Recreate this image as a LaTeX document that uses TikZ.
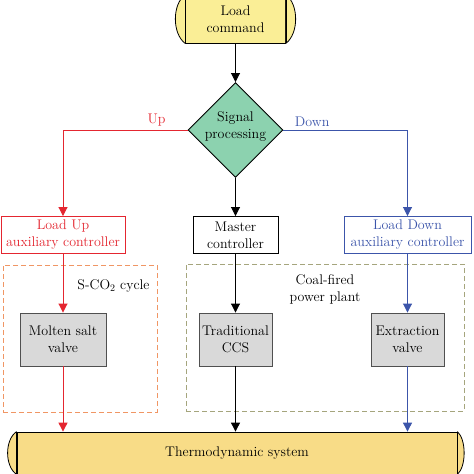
\documentclass[tikz,border=0pt]{standalone}
\usetikzlibrary{shapes.geometric,arrows.meta}
\definecolor{redC}{RGB}{228,38,48}
\definecolor{blueC}{RGB}{60,85,170}
\definecolor{orangeD}{RGB}{240,150,100}
\definecolor{oliveD}{RGB}{165,165,125}
\definecolor{yellowT}{RGB}{250,238,150}
\definecolor{yellowB}{RGB}{248,220,135}
\definecolor{greenF}{RGB}{140,210,175}
\definecolor{grayF}{RGB}{217,217,217}
\definecolor{grayB}{RGB}{80,80,80}
\begin{document}
\begin{tikzpicture}[x=1pt,y=-1pt,
  every node/.style={font=\fontsize{14}{17}\selectfont},
  conn/.style={line width=0.9pt,-{Triangle[width=9pt,length=9pt]}},
  ctrl/.style={rectangle,draw,line width=0.9pt,fill=white,minimum height=37pt,align=center,inner sep=0pt},
  valve/.style={rectangle,draw=grayB,fill=grayF,line width=0.9pt,minimum height=53pt,align=center,inner sep=0pt},
  group/.style={rectangle,draw,line width=0.9pt,dash pattern=on 5pt off 3pt,inner sep=0pt},
  tank/.style={rectangle,draw,line width=0.8pt,align=center,inner sep=0pt},
  decision/.style={diamond,draw,fill=greenF,line width=0.9pt,minimum size=95pt,inner sep=0pt}
]
\useasboundingbox (0,0) rectangle (474,474);

% groups
\node[group,draw=orangeD,minimum width=154pt,minimum height=147pt] (sco2) at (80,338.5) {};
\node[group,draw=oliveD,minimum width=278pt,minimum height=147pt] (coal) at (325,337.5) {};
\node[align=center] (sco2lab) at (113.5,286) {S-CO$_2$ cycle};
\node[align=center] (coallab) at (325,289) {Coal-fired\\power plant};

% top terminal
\node[tank,fill=yellowT,minimum width=100pt,minimum height=48pt] (load) at (235.5,19) {Load\\command};
\fill[yellowT] (load.north west) .. controls +(-13,10) and +(-13,-10) .. (load.south west) -- cycle;
\fill[yellowT] (load.north east) .. controls +(13,10) and +(13,-10) .. (load.south east) -- cycle;
\draw[line width=0.8pt] (load.north west) .. controls +(-13,10) and +(-13,-10) .. (load.south west);
\draw[line width=0.8pt] (load.north east) .. controls +(13,10) and +(13,-10) .. (load.south east);
\draw[line width=0.6pt] (load.north west) -- (load.south west) (load.north east) -- (load.south east);

% decision
\node[decision] (sig) at (235.5,130) {\smash{\makebox[0pt]{\begin{tabular}{@{}c@{}}Signal\\processing\end{tabular}}}};

% controllers
\node[ctrl,draw=redC,text=redC,minimum width=124pt] (lu) at (63,235) {Load Up\\auxiliary controller};
\node[ctrl,minimum width=85pt] (mc) at (235.5,235) {Master\\controller};
\node[ctrl,draw=blueC,text=blueC,minimum width=127pt] (ld) at (407.5,235) {Load Down\\auxiliary controller};

% valves
\node[valve,minimum width=86pt] (ms) at (63,339.5) {Molten salt\\valve};
\node[valve,minimum width=73pt] (ccs) at (235.5,339.5) {Traditional\\CCS};
\node[valve,minimum width=73pt] (ev) at (407.5,339.5) {Extraction\\valve};

% bottom terminal
\node[tank,fill=yellowB,minimum width=440pt,minimum height=42pt] (th) at (237,453) {Thermodynamic system};
\fill[yellowB] (th.north west) .. controls +(-12,8) and +(-12,-8) .. (th.south west) -- cycle;
\fill[yellowB] (th.north east) .. controls +(9,8) and +(9,-8) .. (th.south east) -- cycle;
\draw[line width=0.8pt] (th.north west) .. controls +(-12,8) and +(-12,-8) .. (th.south west);
\draw[line width=0.8pt] (th.north east) .. controls +(9,8) and +(9,-8) .. (th.south east);
\draw[line width=0.6pt] (th.north west) -- (th.south west) (th.north east) -- (th.south east);

% connectors
\draw[conn] (load.south) -- (sig.north);
\draw[conn,redC] (sig.west) -| node[pos=0.124,above,text=redC] {Up} (lu.north);
\draw[conn,blueC] (sig.east) -| node[pos=0.116,above,text=blueC] {Down} (ld.north);
\draw[conn] (sig.south) -- (mc.north);
\draw[conn,redC] (lu.south) -- (ms.north);
\draw[conn] (mc.south) -- (ccs.north);
\draw[conn,blueC] (ld.south) -- (ev.north);
\draw[conn,redC] (ms.south) -- (ms.south |- th.north);
\draw[conn] (ccs.south) -- (ccs.south |- th.north);
\draw[conn,blueC] (ev.south) -- (ev.south |- th.north);
\end{tikzpicture}
\end{document}
